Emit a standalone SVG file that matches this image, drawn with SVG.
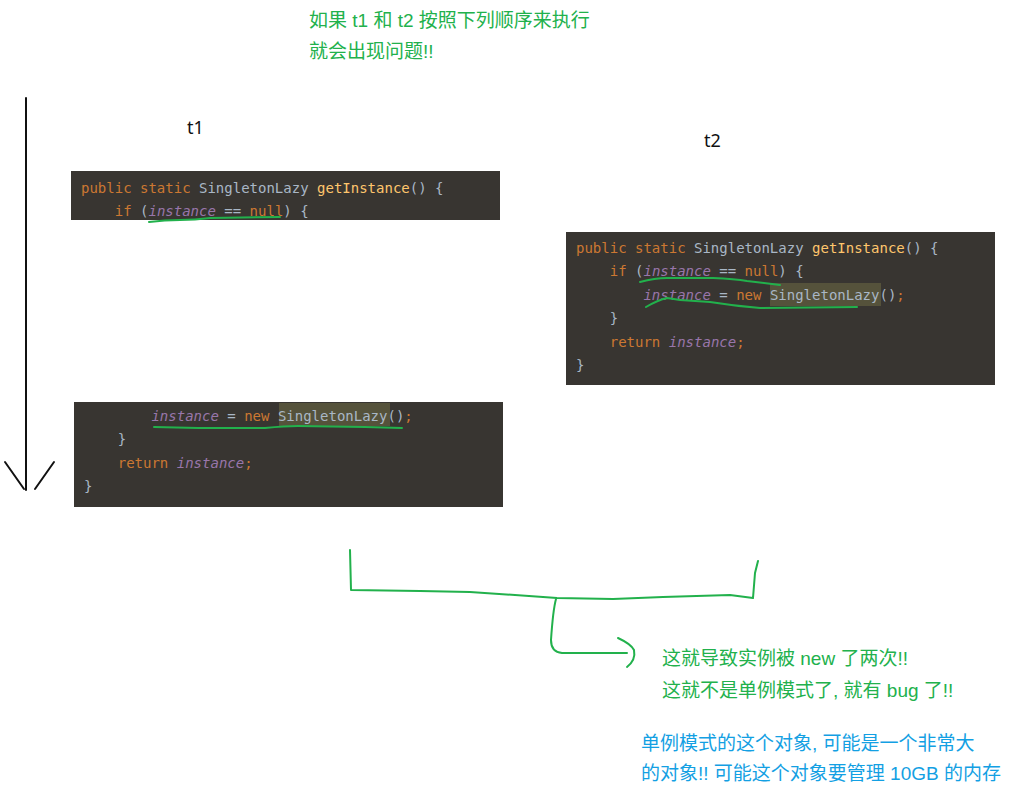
<svg xmlns="http://www.w3.org/2000/svg" width="1010" height="793" viewBox="0 0 1010 793">
<style>
.code{font-family:"DejaVu Sans Mono","Liberation Mono",monospace;font-size:14px;white-space:pre;fill:#a9b7c6}
.kw{fill:#cc7832}
.fn{fill:#ffc66d}
.iv{fill:#9876aa;font-style:italic}
.box{fill:#383531}
.hl{fill:#55523b}
.pen{fill:none;stroke:#22b14c;stroke-width:2;stroke-linecap:round;stroke-linejoin:round}
.cn{font-family:"Liberation Sans","Noto Sans CJK SC",sans-serif;font-size:19px}
.green{fill:#22b14c}
.blue{fill:#13a0e3}
.lbl{font-family:"Noto Sans","Liberation Sans",sans-serif;font-size:18px;fill:#111}
</style>
<rect width="1010" height="793" fill="#ffffff"/>

<g id="title">
<text class="cn green" x="309" y="27">如果 t1 和 t2 按照下列顺序来执行</text>
<text class="cn green" x="309" y="58">就会出现问题!!</text>
</g>

<g id="label-t1"><text class="lbl" x="187" y="134">t1</text></g>
<g id="label-t2"><text class="lbl" x="704" y="147">t2</text></g>

<g id="code-t1-top">
<rect class="box" x="71" y="171" width="429" height="49"/>
<text class="code" x="81" y="193"><tspan class="kw">public static </tspan>SingletonLazy <tspan class="fn">getInstance</tspan>() {</text>
<text class="code" x="81" y="216">    <tspan class="kw">if </tspan>(<tspan class="iv">instance</tspan> == <tspan class="kw">null</tspan>) {</text>
<path class="pen" d="M149,222 Q165,220 180,220 T210,218 L280,217"/>
</g>

<g id="code-t2">
<rect class="box" x="566" y="232" width="429" height="153"/>
<rect class="hl" x="770" y="283" width="111" height="23"/>
<text class="code" x="576" y="253"><tspan class="kw">public static </tspan>SingletonLazy <tspan class="fn">getInstance</tspan>() {</text>
<text class="code" x="576" y="276">    <tspan class="kw">if </tspan>(<tspan class="iv">instance</tspan> == <tspan class="kw">null</tspan>) {</text>
<text class="code" x="576" y="300">        <tspan class="iv">instance</tspan> = <tspan class="kw">new </tspan>SingletonLazy()<tspan class="kw">;</tspan></text>
<text class="code" x="576" y="323">    }</text>
<text class="code" x="576" y="347">    <tspan class="kw">return </tspan><tspan class="iv">instance</tspan><tspan class="kw">;</tspan></text>
<text class="code" x="576" y="370">}</text>
<path class="pen" d="M640,282 Q655,278 667,278 L713,278 Q735,279 747,281 L780,285"/>
<path class="pen" d="M646,307 Q658,300 667,298 Q674,299 680,300 L710,302 Q735,306 760,308 L857,307"/>
</g>

<g id="code-t1-bottom">
<rect class="box" x="74" y="402" width="429" height="105"/>
<rect class="hl" x="279" y="403" width="111" height="23"/>
<text class="code" x="84" y="421">        <tspan class="iv">instance</tspan> = <tspan class="kw">new </tspan>SingletonLazy()<tspan class="kw">;</tspan></text>
<text class="code" x="84" y="444">    }</text>
<text class="code" x="84" y="468">    <tspan class="kw">return </tspan><tspan class="iv">instance</tspan><tspan class="kw">;</tspan></text>
<text class="code" x="84" y="491">}</text>
<path class="pen" d="M154,427 L198,428 L265,428 Q285,426 298,426 L365,427 L402,428"/>
</g>

<g id="connectors">
<g id="time-arrow" fill="none" stroke="#111" stroke-width="2" stroke-linecap="round">
<line x1="26" y1="98" x2="26" y2="490"/>
<line x1="5" y1="462" x2="24" y2="489"/>
<line x1="35" y1="489" x2="54" y2="462"/>
</g>
<path class="pen" d="M350,550 L351,590 L420,591 L470,592 L557,598 L613,599 L663,597 L730,595 L753,598 L755,573 L758,561"/>
<path class="pen" d="M556,599 Q553,610 551,640 Q551,652 562,653 L627,653"/>
<path class="pen" d="M618,638 Q631,644 634,650 Q636,660 627,667"/>
</g>

<g id="note-green">
<text class="cn green" x="662" y="665">这就导致实例被 new 了两次!!</text>
<text class="cn green" x="662" y="697">这就不是单例模式了, 就有 bug 了!!</text>
</g>

<g id="note-blue">
<text class="cn blue" x="641" y="750">单例模式的这个对象, 可能是一个非常大</text>
<text class="cn blue" x="641" y="780">的对象!! 可能这个对象要管理 10GB 的内存</text>
</g>
</svg>
